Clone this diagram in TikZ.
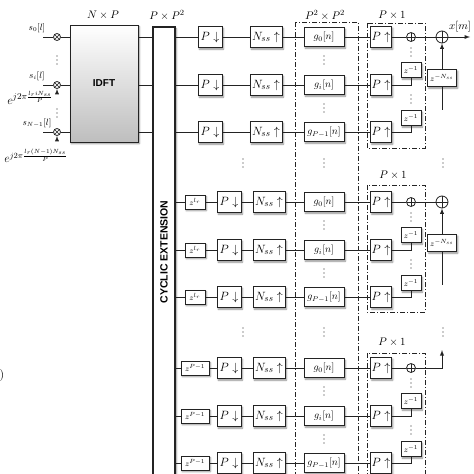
\documentclass[tikz,border=0pt]{standalone}
\usepackage{tikz}
\usepackage{xcolor}
\usepackage{fontspec}
\usetikzlibrary{shadows.blur}
\newfontfamily\labelsans{Liberation Sans}
\definecolor{wiregray}{RGB}{35,35,35}
\definecolor{idftgray}{RGB}{190,190,190}

\tikzset{
  blk/.style={draw=wiregray, line width=1pt, fill=white, inner sep=1pt,
    blur shadow={shadow xshift=1.3pt, shadow yshift=-1.6pt, shadow blur steps=4, shadow opacity=45}},
  rate/.style={blk, minimum width=24pt, minimum height=21pt, font=\fontsize{13}{15}\selectfont},
  filt/.style={blk, minimum width=40pt, minimum height=19pt, font=\fontsize{10}{12}\selectfont},
  dly/.style={blk, minimum width=20pt, minimum height=15pt, font=\fontsize{8}{10}\selectfont},
  mult/.style={circle, draw=wiregray, line width=0.8pt, fill=white, minimum size=7pt, inner sep=0pt,
    path picture={\draw[line width=0.6pt] (path picture bounding box.north west) -- (path picture bounding box.south east)
      (path picture bounding box.north east) -- (path picture bounding box.south west);}},
  adder/.style={circle, draw=wiregray, line width=0.8pt, fill=white, minimum size=9pt, inner sep=0pt,
    path picture={\draw[line width=0.6pt] (path picture bounding box.north) -- (path picture bounding box.south)
      (path picture bounding box.west) -- (path picture bounding box.east);}},
  wire/.style={draw=wiregray, line width=0.9pt},
  dimlbl/.style={font=\fontsize{11}{13}\selectfont},
  dashbox/.style={draw=wiregray, line width=0.8pt, dash pattern=on 5pt off 2pt on 1pt off 2pt},
  vdot/.style={minimum width=2pt, minimum height=12pt, inner sep=0pt,
    path picture={\fill[wiregray] ([yshift=4pt]path picture bounding box.center) circle (0.65pt)
      (path picture bounding box.center) circle (0.65pt)
      ([yshift=-4pt]path picture bounding box.center) circle (0.65pt);}},
}

\begin{document}
\begin{tikzpicture}[x=1pt, y=-1pt]
    \useasboundingbox (0,0) rectangle (474,474);
    \clip (0,0) rectangle (474,474);

    % IDFT and cyclic extension
    \node[blk, top color=white, bottom color=idftgray, minimum width=68pt, minimum height=117pt,
          font=\labelsans\bfseries\fontsize{10}{12}\selectfont] (idft) at (104,83.5) {IDFT};
    \node[blk, line width=1.3pt, minimum width=22pt, minimum height=470pt] (cyc) at (164,262) {};
    \node[rotate=90, font=\labelsans\bfseries\fontsize{10.5}{12}\selectfont] (cyctxt) at (164,252) {CYCLIC EXTENSION};

    % Dimension labels and dash-dot blocks
    \node[dimlbl] (dnp) at (103,15) {$N\times P$};
    \node[dimlbl] (dpp) at (167,15) {$P\times P^2$};
    \node[dimlbl] (dgg) at (325,15) {$P^2\times P^2$};
    \node[dimlbl] (dpa) at (392,15) {$P\times 1$};
    \node[dimlbl] (dpb) at (393,175) {$P\times 1$};
    \node[dimlbl] (dpc) at (392,342) {$P\times 1$};
    \draw[dashbox] (295,22) rectangle (358,490);
    \draw[dashbox] (367,23) rectangle (425,148);
    \draw[dashbox] (367,185) rectangle (425,312);
    \draw[dashbox] (367,353) rectangle (425,490);

    % Inputs with modulators
    \foreach \k/\y/\s in {0/37/s_0[l], 1/85/s_i[l], 2/132/s_{N-1}[l]} {
        \node[mult] (mu\k) at (57,\y) {};
        \coordinate (in\k) at (43,\y);
        \node[font=\fontsize{9}{11}\selectfont, inner sep=1pt] (sl\k) at (37,\y-9) {$\s$};
        \draw[wire] (in\k) -- (mu\k) -- (mu\k -| idft.west);
        \draw[wire] (idft.east |- mu\k) -- (cyc.west |- mu\k);
    }
    \coordinate (ex1) at (57,92);
    \coordinate (ex2) at (57,139);
    \draw[wire, -latex] (ex1) -- (mu1);
    \draw[wire, -latex] (ex2) -- (mu2);
    \node[font=\fontsize{13}{15}\selectfont, inner sep=0pt] (exl1) at (30,98) {$e^{j2\pi\frac{l_r i N_{ss}}{P}}$};
    \node[font=\fontsize{12}{14}\selectfont, inner sep=0pt] (exl2) at (36,156) {$e^{j2\pi\frac{l_r (N-1) N_{ss}}{P}}$};
    \node[vdot] (vs1) at (57,60) {};
    \node[vdot] (vs2) at (57,113) {};
    \node[font=\fontsize{12}{14}\selectfont] (cut) at (2,375) {$)$};

    % First group: no delay
    \foreach \r/\y in {0/37, 1/85, 2/132} {
        \node[rate] (pda\r) at (210,\y) {$P\downarrow$};
        \node[rate, minimum width=32pt] (nua\r) at (266,\y) {$N_{ss}\uparrow$};
        \draw[wire] (cyc.east |- pda\r) -- (pda\r) -- (nua\r);
    }

    % Other groups with delays
    \foreach \g/\y/\zl/\zw in {b/202/z^{l_r}/20, c/368/z^{P-1}/28}
        \foreach \r/\dy in {0/0, 1/48, 2/95} {
            \node[dly, minimum width=\zw pt, minimum height=14pt] (dl\g\r) at (195,\y+\dy) {$\zl$};
            \node[rate] (pd\g\r) at (229,\y+\dy) {$P\downarrow$};
            \node[rate, minimum width=32pt] (nu\g\r) at (269,\y+\dy) {$N_{ss}\uparrow$};
            \draw[wire] (cyc.east |- dl\g\r) -- (dl\g\r) -- (pd\g\r) -- (nu\g\r);
        }

    % Polyphase filters and upsamplers
    \foreach \g/\y in {a/37, b/202, c/368} {
        \foreach \r/\dy/\gl in {0/0/g_0[n], 1/48/g_i[n], 2/95/g_{P-1}[n]} {
            \node[filt] (gf\g\r) at (324,\y+\dy) {$\gl$};
            \node[rate, minimum width=21pt] (pu\g\r) at (381,\y+\dy) {$P\uparrow$};
            \draw[wire] (nu\g\r) -- (gf\g\r) -- (pu\g\r);
        }
        \node[vdot] (vg\g1) at (324,\y+23) {};
        \node[vdot] (vg\g2) at (324,\y+71) {};
        % delay chain
        \node[adder] (sa\g) at (411,\y) {};
        \draw[wire] (pu\g0) -- (sa\g);
        \node[vdot] (vz\g1) at (411,\y+15) {};
        \node[dly] (zd\g1) at (411,\y+33) {$z^{-1}$};
        \draw[wire] (pu\g1) -| (zd\g1);
        \node[vdot] (vz\g2) at (411,\y+62) {};
        \node[dly] (zd\g2) at (411,\y+81) {$z^{-1}$};
        \draw[wire] (pu\g2) -| (zd\g2);
    }

    % Overlap-add of the groups
    \foreach \g/\y/\lo in {a/37/73, b/202/83} {
        \node[adder, minimum size=12pt] (bs\g) at (442,\y) {};
        \node[dly, minimum width=29pt, minimum height=17pt] (zn\g) at (442,\y+41) {$z^{-N_{ss}}$};
        \coordinate (tl\g) at (442,\y+\lo);
        \draw[wire] (sa\g) -- (bs\g);
        \draw[wire, -latex] (zn\g) -- (bs\g);
        \draw[wire] (zn\g) -- (tl\g);
    }
    \coordinate (xout) at (470,37);
    \draw[wire, -latex] (bsa) -- (xout);
    \node[font=\fontsize{11}{13}\selectfont] (xlbl) at (460,27) {$x[m]$};
    \coordinate (cup) at (442,350);
    \draw[wire, -latex] (sac) -| (cup);

    % Dots between the groups
    \foreach \x in {243, 324, 443}
        \foreach \y in {163, 332}
            \node[vdot] (gap-\x-\y) at (\x,\y) {};
\end{tikzpicture}
\end{document}
